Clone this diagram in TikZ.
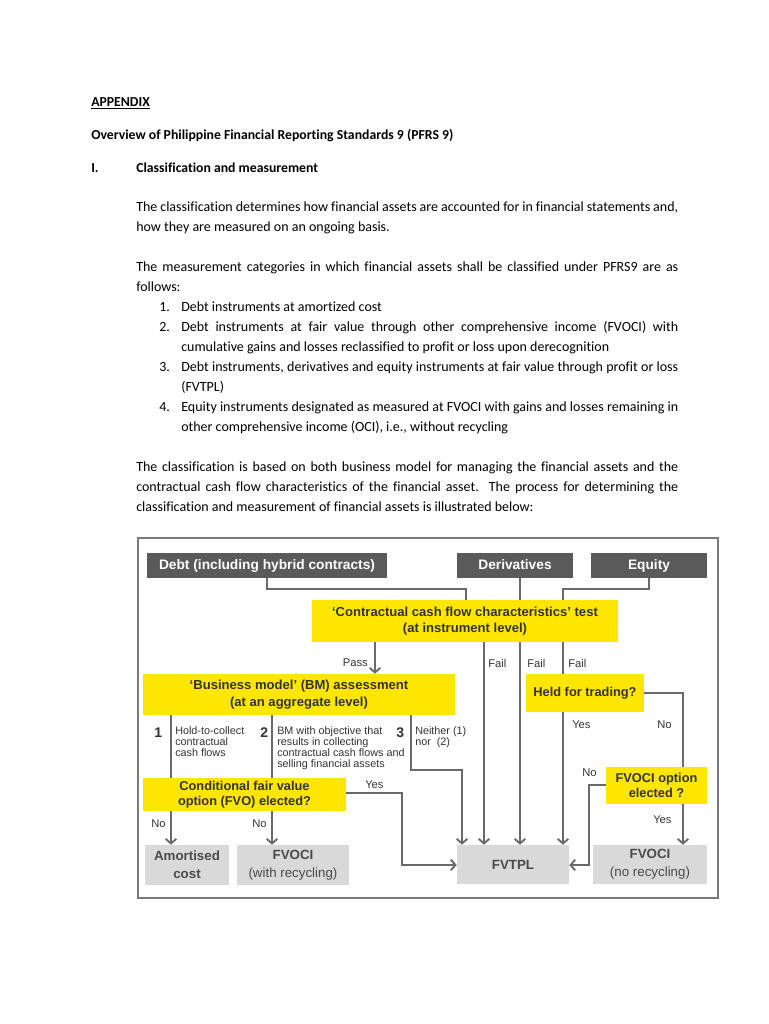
\documentclass[tikz,border=0pt]{standalone}
\usepackage{fontspec}
\setmainfont{Carlito}[Ligatures=NoCommon]
\newfontfamily\arialf{Liberation Sans}
\usetikzlibrary{arrows.meta}
\definecolor{eyyellow}{HTML}{FFE600}
\definecolor{dkgray}{HTML}{5A5A5A}
\definecolor{ltgray}{HTML}{D9D9D9}
\definecolor{lncol}{HTML}{6A6A6A}
\definecolor{framecol}{HTML}{7A7A7A}
\definecolor{txtdk}{HTML}{333333}
\definecolor{txtmd}{HTML}{4A4A4A}
\newcommand\jl[1]{\makebox[406.5pt][s]{#1}}
\newcommand\jli[1]{\makebox[372.75pt][s]{#1}}
\begin{document}
\begin{tikzpicture}[x=0.75pt,y=-0.75pt,
  txt/.style={anchor=base west, inner sep=0, font=\fontsize{10.5}{12}\selectfont},
  txtb/.style={txt, font=\fontsize{10.3}{12}\selectfont\bfseries},
  ln/.style={draw=lncol, line width=1.4pt},
  arr/.style={ln, -{Straight Barb[length=3.5pt,width=8pt]}},
  sz/.style 2 args={minimum width=#1*0.75pt, minimum height=#2*0.75pt},
  dbox/.style={fill=dkgray, text=white, inner sep=0, align=center, text height=7.6pt, text depth=2.2pt, font=\arialf\bfseries\fontsize{10.3}{12}\selectfont},
  ybox/.style={fill=eyyellow, text=txtdk, inner sep=0, align=center, font=\arialf\bfseries\fontsize{9.8}{12.5}\selectfont},
  gbox/.style={fill=ltgray, text=txtmd, inner sep=0, align=center, font=\arialf\fontsize{10}{13.5}\selectfont},
  lbl/.style={anchor=base west, inner sep=0, text=txtdk, font=\arialf\fontsize{8.4}{9}\selectfont},
  lblr/.style={lbl, anchor=base east},
  small/.style={anchor=north west, inner sep=0, text=txtdk, align=left, font=\arialf\fontsize{8.1}{8.4}\selectfont},
  num/.style={anchor=base west, inner sep=0, text=txtdk, font=\arialf\bfseries\fontsize{10.5}{12}\selectfont}
]
\useasboundingbox[fill=white] (0,0) rectangle (768,1024);

% ---------- text ----------
\node[txtb] (appx) at (91,106) {\underline{APPENDIX}};
\node[txtb] (ovw) at (91,139) {Overview of Philippine Financial Reporting Standards 9 (PFRS 9)};
\node[txtb] (secn) at (91,172) {I.};
\node[txtb] (sect) at (136,172) {Classification and measurement};
\node[txt] (p1a) at (136,211) {\jl{The classification determines how financial assets are accounted for in financial statements and,}};
\node[txt] (p1b) at (136,231) {how they are measured on an ongoing basis.};
\node[txt] (p2a) at (136,271) {\jl{The measurement categories in which financial assets shall be classified under PFRS9 are as}};
\node[txt] (p2b) at (136,291) {follows:};
\node[txt] (n1) at (159,311) {1.};
\node[txt] (i1) at (181,311) {Debt instruments at amortized cost};
\node[txt] (n2) at (159,331) {2.};
\node[txt] (i2a) at (181,331) {\jli{Debt instruments at fair value through other comprehensive income (FVOCI) with}};
\node[txt] (i2b) at (181,351) {cumulative gains and losses reclassified to profit or loss upon derecognition};
\node[txt] (n3) at (159,371) {3.};
\node[txt] (i3a) at (181,371) {\jli{Debt instruments, derivatives and equity instruments at fair value through profit or loss}};
\node[txt] (i3b) at (181,391) {(FVTPL)};
\node[txt] (n4) at (159,411) {4.};
\node[txt] (i4a) at (181,411) {\jli{Equity instruments designated as measured at FVOCI with gains and losses remaining in}};
\node[txt] (i4b) at (181,431) {other comprehensive income (OCI), i.e., without recycling};
\node[txt] (p3a) at (136,471) {\jl{The classification is based on both business model for managing the financial assets and the}};
\node[txt] (p3b) at (136,491) {\jl{contractual cash flow characteristics of the financial asset.\ \ The process for determining the}};
\node[txt] (p3c) at (136,511) {classification and measurement of financial assets is illustrated below:};

% ---------- diagram ----------
\draw[draw=framecol, line width=1.3pt] (138,538) rectangle (718,898);

\node[dbox, sz={240}{25}] (debt) at (267,565.5) {Debt (including hybrid contracts)};
\node[dbox, sz={116}{25}] (deriv) at (515,565.5) {Derivatives};
\node[dbox, sz={116}{25}] (equity) at (649,565.5) {Equity};

\node[ybox, sz={306}{42}] (ccf) at (465,621) {‘Contractual cash flow characteristics’ test\\(at instrument level)};
\node[ybox, sz={312}{41}] (bm) at (299,694.5) {‘Business model’ (BM) assessment\\(at an aggregate level)};
\node[ybox, sz={118}{38}, font=\arialf\bfseries\fontsize{9.6}{12}\selectfont] (hft) at (585,693) {Held for trading?};
\node[ybox, sz={203}{33}, font=\arialf\bfseries\fontsize{9.6}{11.2}\selectfont] (cfvo) at (244.5,794.5) {Conditional fair value\\option (FVO) elected?};
\node[ybox, sz={101}{37}, font=\arialf\bfseries\fontsize{9.6}{11.5}\selectfont] (fvopt) at (656.5,785.5) {FVOCI option\\elected ?};

\node[gbox, sz={84}{40}] (amort) at (187,865) {\textbf{Amortised}\\\textbf{cost}};
\node[gbox, sz={112}{40}] (fvoci1) at (293,865) {\textbf{FVOCI}\\(with recycling)};
\node[gbox, sz={112}{39}] (fvtpl) at (513,864.5) {\textbf{FVTPL}};
\node[gbox, sz={114}{39}] (fvoci2) at (650,864.5) {\textbf{FVOCI}\\(no recycling)};

% junction coordinates
\coordinate (jd) at (466,589);
\coordinate (je) at (563,589);
\coordinate (xder) at (520,0);
\coordinate (xpass) at (375,0);
\coordinate (xf1) at (484,0);
\coordinate (c1) at (171,0);
\coordinate (c2) at (272,0);
\coordinate (c3) at (411,770);
\coordinate (c3b) at (462,770);
\coordinate (jy) at (402,865);
\coordinate (jno) at (683,693);
\coordinate (jfv) at (589,865);

% top connectors
\draw[ln] (debt.south) |- (jd) -- (jd |- ccf.north);
\draw[ln] (deriv.south -| xder) -- (ccf.north -| xder);
\draw[ln] (equity.south) |- (je) -- (je |- ccf.north);

% from ccf
\draw[arr] (ccf.south -| xpass) -- (bm.north -| xpass);
\draw[arr] (ccf.south -| xf1) -- (fvtpl.north -| xf1);
\draw[arr] (ccf.south -| xder) -- (fvtpl.north -| xder);
\draw[ln] (ccf.south -| je) -- (hft.north -| je);
\draw[arr] (hft.south -| je) -- (fvtpl.north -| je);

% held for trading -> FVOCI option
\draw[ln] (hft.east |- jno) -- (jno) -- (jno |- fvopt.north);
\draw[arr] (fvopt.south -| jno) -- (fvoci2.north -| jno);
\draw[arr] (fvopt.west |- 0,785) -| (jfv) -- (fvtpl.east |- jfv);

% business model columns
\draw[ln] (bm.south -| c1) -- (cfvo.north -| c1);
\draw[arr] (cfvo.south -| c1) -- (amort.north -| c1);
\draw[ln] (bm.south -| c2) -- (cfvo.north -| c2);
\draw[arr] (cfvo.south -| c2) -- (fvoci1.north -| c2);
\draw[arr] (bm.south -| c3) -- (c3) -- (c3b) -- (fvtpl.north -| c3b);
\draw[arr] (cfvo.east |- 0,793) -| (jy) -- (fvtpl.west |- jy);

% labels
\node[lblr] (lpass) at (368,666) {Pass};
\node[lbl] (lf1) at (488,667) {Fail};
\node[lbl] (lf2) at (527,667) {Fail};
\node[lbl] (lf3) at (568,667) {Fail};
\node[lbl] (lyes1) at (572,728) {Yes};
\node[lbl] (lno1) at (657,728) {No};
\node[lbl] (lno2) at (582,776) {No};
\node[lbl] (lyes2) at (653,823) {Yes};
\node[lbl] (lyes3) at (365,788) {Yes};
\node[lbl] (lno3) at (151,827) {No};
\node[lbl] (lno4) at (252,827) {No};

\node[num] (k1) at (154,737) {1};
\node[num] (k2) at (260,737) {2};
\node[num] (k3) at (396,737) {3};
\node[small] (t1) at (175,726) {Hold-to-collect\\contractual\\cash flows};
\node[small] (t2) at (277,726) {BM with objective that\\results in collecting\\contractual cash flows and\\selling financial assets};
\node[small] (t3) at (415,726) {Neither (1)\\nor\ \ (2)};
\end{tikzpicture}
\end{document}
